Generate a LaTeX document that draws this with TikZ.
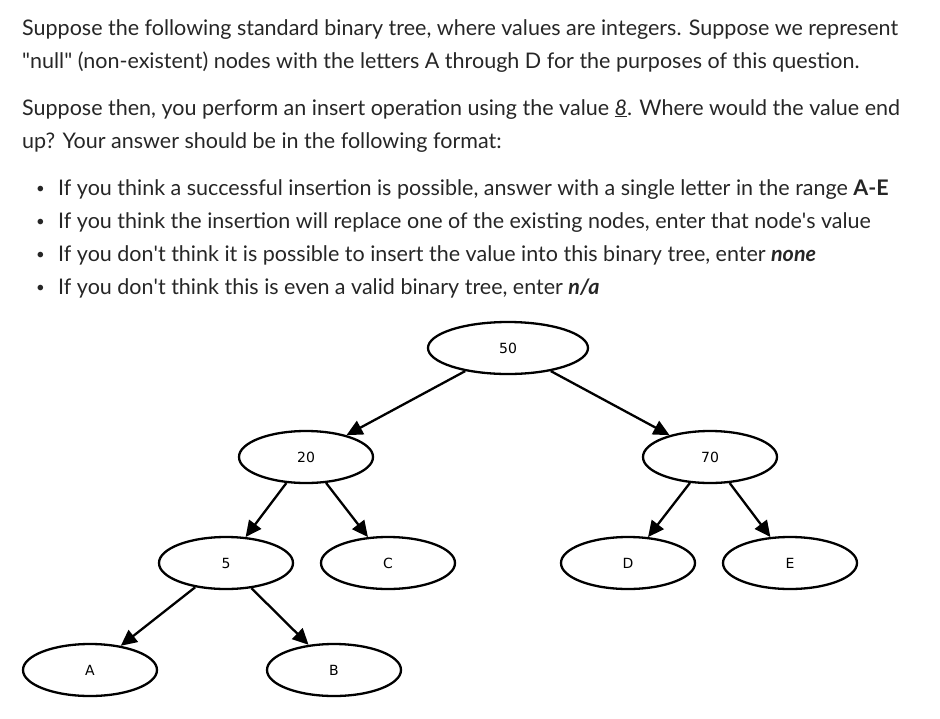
\documentclass[tikz,border=0pt]{standalone}
\usepackage{fontspec}
\setmainfont{Lato}
\newfontfamily\latoplain{Lato}
\newfontfamily\nodefont{DejaVu Sans}
\usetikzlibrary{arrows.meta,shapes.geometric}
\newcommand{\dq}{{\latoplain\symbol{"22}}}
\newcommand{\sq}{{\latoplain\symbol{"27}}}
\begin{document}
\begin{tikzpicture}[x=1pt,y=-1pt,
  txt/.style={anchor=base west,inner sep=0pt,font=\fontsize{21.5}{24}\selectfont,text=black!85},
  tn/.style={draw,ellipse,line width=2.3pt,minimum width=134pt,minimum height=52pt,inner sep=0pt,font=\nodefont\fontsize{14}{16}\selectfont},
  edge/.style={line width=2.3pt,-{Triangle[length=16pt,width=15pt]}}]
\useasboundingbox (0,0) rectangle (940,718);
\node[txt] (l1) at (22,35) {Suppose the following standard binary tree, where values are integers. Suppose we represent};
\node[txt] (l2) at (22,68) {\dq null\dq\ (non-existent) nodes with the letters A through D for the purposes of this question.};
\node[txt] (l3) at (22,115) {Suppose then, you perform an insert operation using the value \underline{\textit{8}}. Where would the value end};
\node[txt] (l4) at (22,148) {up? Your answer should be in the following format:};
\foreach \y/\t [count=\i] in {195/{If you think a successful insertion is possible, answer with a single letter in the range \textbf{A-E}},
  228/{If you think the insertion will replace one of the existing nodes, enter that node\sq s value},
  261/{If you don\sq t think it is possible to insert the value into this binary tree, enter \textbf{\textit{none}}},
  294/{If you don\sq t think this is even a valid binary tree, enter \textbf{\textit{n/a}}}}{
  \node[txt,font=\fontsize{15}{16}\selectfont] (b\i) at (36,\y-2) {•};
  \node[txt] (t\i) at (58,\y) {\t};
}
\node[tn,minimum width=160pt] (n50) at (508,348) {50};
\node[tn] (n20) at (306,457) {20};
\node[tn] (n70) at (710,457) {70};
\node[tn] (n5) at (226,563) {5};
\node[tn] (nC) at (388,563) {C};
\node[tn] (nD) at (628,563) {D};
\node[tn] (nE) at (790,563) {E};
\node[tn] (nA) at (90,670) {A};
\node[tn] (nB) at (334,670) {B};
\draw[edge] (n50) -- (n20);
\draw[edge] (n50) -- (n70);
\draw[edge] (n20) -- (n5);
\draw[edge] (n20) -- (nC);
\draw[edge] (n70) -- (nD);
\draw[edge] (n70) -- (nE);
\draw[edge] (n5) -- (nA);
\draw[edge] (n5) -- (nB);
\end{tikzpicture}
\end{document}
